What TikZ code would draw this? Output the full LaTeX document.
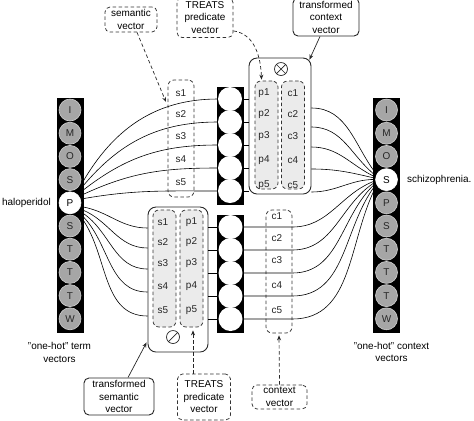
\documentclass[tikz,border=0pt]{standalone}
\usepackage{fontspec}
\setmainfont{Liberation Sans}
\usetikzlibrary{arrows.meta,calc}
\begin{document}
\begin{tikzpicture}[x=1bp,y=1bp,
  every node/.style={font=\fontsize{10}{12.5}\selectfont},
  colbox/.style={fill=black,draw=black,inner sep=0pt,minimum width=26bp},
  gterm/.style={circle,fill=black!35,draw=black!18,line width=0.6pt,minimum size=22bp,inner sep=0pt,text=black!85},
  wterm/.style={circle,fill=white,draw=white,line width=0.6pt,minimum size=22bp,inner sep=0pt,text=black},
  hid/.style={circle,fill=white,minimum size=24bp,inner sep=0pt},
  dcol/.style={draw=black!80,dash pattern=on 3.5bp off 2.5bp,rounded corners=6bp,line width=0.75pt,inner sep=0pt,minimum width=23bp},
  gcol/.style={dcol,fill=black!8},
  sbox/.style={draw=black!85,fill=white,rounded corners=8bp,line width=0.9pt,inner sep=0pt},
  dcall/.style={draw=black!80,dash pattern=on 3.5bp off 2.5bp,rounded corners=5bp,line width=0.75pt,align=center,inner sep=1bp},
  scall/.style={draw=black!85,rounded corners=5bp,line width=0.9pt,align=center,inner sep=1bp,fill=white},
  lbl/.style={text=black!85,inner sep=0pt},
  conn/.style={line width=0.6pt},
  darrow/.style={-{Stealth[length=5bp,width=4bp]},dash pattern=on 3.5bp off 2.5bp,line width=0.7pt,draw=black!85},
  sarrow/.style={-{Stealth[length=5bp,width=4bp]},line width=0.7pt,draw=black!85},
  symb/.style={circle,draw=black!85,line width=0.7pt,minimum size=13bp,inner sep=0pt},
]
\useasboundingbox (0,0) rectangle (474,-420);

% term columns
\node[colbox,minimum height=234bp] (Lcol) at (70,-215) {};
\node[colbox,minimum height=234bp] (Rcol) at (386.5,-215) {};
\foreach \l/\s [count=\i from 0] in {I/gterm,M/gterm,O/gterm,S/gterm,P/wterm,S/gterm,T/gterm,T/gterm,T/gterm,W/gterm}
  \node[\s] (L\i) at (70,{-110-23.2*\i}) {\l};
\foreach \l/\s [count=\i from 0] in {I/gterm,M/gterm,O/gterm,S/wterm,P/gterm,S/gterm,T/gterm,T/gterm,T/gterm,W/gterm}
  \node[\s] (R\i) at (386.5,{-110-23.2*\i}) {\l};

% middle columns
\node[colbox,minimum height=117bp] (Mt) at (230,-145.5) {};
\node[colbox,minimum height=117bp] (Mb) at (230.5,-273.5) {};
\foreach \i in {1,...,5} {
  \node[hid] (m\i) at (230,{-99-23*(\i-1)}) {};
  \node[hid] (b\i) at (230.5,{-227-23*(\i-1)}) {};
}

% vector boxes
\node[dcol,minimum width=26bp,minimum height=117bp] (ts) at (181,-138.5) {};
\node[sbox,minimum width=62bp,minimum height=136bp] (trc) at (280,-126) {};
\node[gcol,minimum height=108bp] (tp) at (266.5,-135) {};
\node[gcol,minimum height=108bp] (tc) at (293,-135) {};
\node[sbox,minimum width=60bp,minimum height=145bp] (tsv) at (178,-279.5) {};
\node[gcol,minimum height=117bp] (bs) at (164.5,-268.5) {};
\node[gcol,minimum height=117bp] (bp) at (191.5,-268.5) {};
\node[dcol,minimum width=26bp,minimum height=123bp] (cb) at (279,-271.5) {};

% labels
\foreach \y [count=\i] in {93,114,136,159,182}
  \node[lbl] (tsl\i) at (181,-\y) {s\i};
\foreach \y [count=\i] in {93,114,136,160,185} {
  \node[lbl] (tpl\i) at (264,-\y) {p\i};
  \node[lbl] (tcl\i) at (293,-\y) {c\i};
}
\foreach \y [count=\i] in {222,242,263,286,310} {
  \node[lbl] (bs\i) at (163,-\y) {s\i};
  \node[lbl] (bp\i) at (191.5,-\y) {p\i};
}
\foreach \y [count=\i] in {216,238,260,285,310}
  \node[lbl] (cbl\i) at (277,-\y) {c\i};

% operators
\node[symb] (ot) at (281,-69) {};
\draw[line width=0.7pt,black!85] (ot.45) -- (ot.225) (ot.135) -- (ot.-45);
\node[symb] (os) at (173,-337) {};
\draw[line width=0.7pt,black!85] (os.45) -- (os.225);

% connectors left top fan
\foreach \i/\o/\dy in {1/60/20,2/50/16,3/38/12,4/25/8,5/10/4}
  \draw[conn] ($(L4.east)+(1,\dy)$) to[out=\o,in=180] (m\i.west);
% left bottom fan
\foreach \i/\o/\dy in {1/-10/-4,2/-22/-7,3/-33/-10,4/-45/-13,5/-55/-16}
  \draw[conn] ($(L4.east)+(1,\dy)$) to[out=\o,in=180] ($(tsv.west |- bs\i)+(0,-6)$);
% short links
\foreach \i in {1,...,5} {
  \draw[conn] (m\i.east) -- (m\i.east -| trc.west);
  \draw[conn] (b\i.west -| tsv.east) -- (b\i.west);
}
% top-right fan into S
\foreach \dy/\a/\ia in {18/152/128,-1/160/142,-21/167/155,-43/173/167,-66/179/180}
  \draw[conn] ($(trc.east)+(0,\dy)$) to[out=0,in=\ia] (R3.\a);
% bottom-right fan into S
\foreach \i/\a/\ia in {1/186/200,2/192/212,3/198/222,4/204/232,5/210/242}
  \draw[conn] (b\i.east) -- (b\i.east -| cb.east) to[out=0,in=\ia] (R3.\a);

% callouts
\node[dcall,minimum width=52bp,minimum height=25bp] (semv) at (131,-19.5) {semantic\\vector};
\node[dcall,minimum width=56bp,minimum height=40bp] (treats1) at (205,-17.5) {TREATS\\predicate\\vector};
\node[scall,minimum width=66bp,minimum height=38bp] (trcv) at (326,-17) {transformed\\context\\vector};
\node[scall,minimum width=70bp,minimum height=37bp] (tsvc) at (119,-396.5) {transformed\\semantic\\vector};
\node[dcall,minimum width=53bp,minimum height=46bp] (treats2) at (204,-397) {TREATS\\predicate\\vector};
\node[dcall,minimum width=55bp,minimum height=24bp] (ctxv) at (279.5,-397) {context\\vector};

\coordinate (semtip) at (166,-102);
\draw[darrow] ($(semv.south)+(6,0)$) -- (semtip);
\draw[darrow] ($(treats1.south east)+(0,7)$) to[out=-8,in=92] ($(tp.north)+(-5,1)$);
\draw[sarrow] ($(trcv.south)+(-6,0)$) -- ($(trc.north east)+(-2,-2)$);
\draw[sarrow] ($(tsvc.north)+(9,0)$) -- ($(tsv.south west)+(-1,10)$);
\draw[darrow] ($(bp.south |- treats2.north)+(1.5,0)$) -- ($(bp.south)+(1.5,-3)$);
\draw[darrow] (ctxv.north) -- ($(cb.south)+(0,-2)$);

% text labels
\node[anchor=east,inner sep=0pt] (halo) at (51,-203) {haloperidol};
\node[anchor=west,inner sep=0pt] (schiz) at (407,-180) {schizophrenia.};
\node[align=center,inner sep=0pt] (oht) at (59.5,-352.5) {"one-hot" term\\vectors};
\node[align=center,inner sep=0pt] (ohc) at (391.5,-352) {"one-hot" context\\vectors};
\end{tikzpicture}
\end{document}
